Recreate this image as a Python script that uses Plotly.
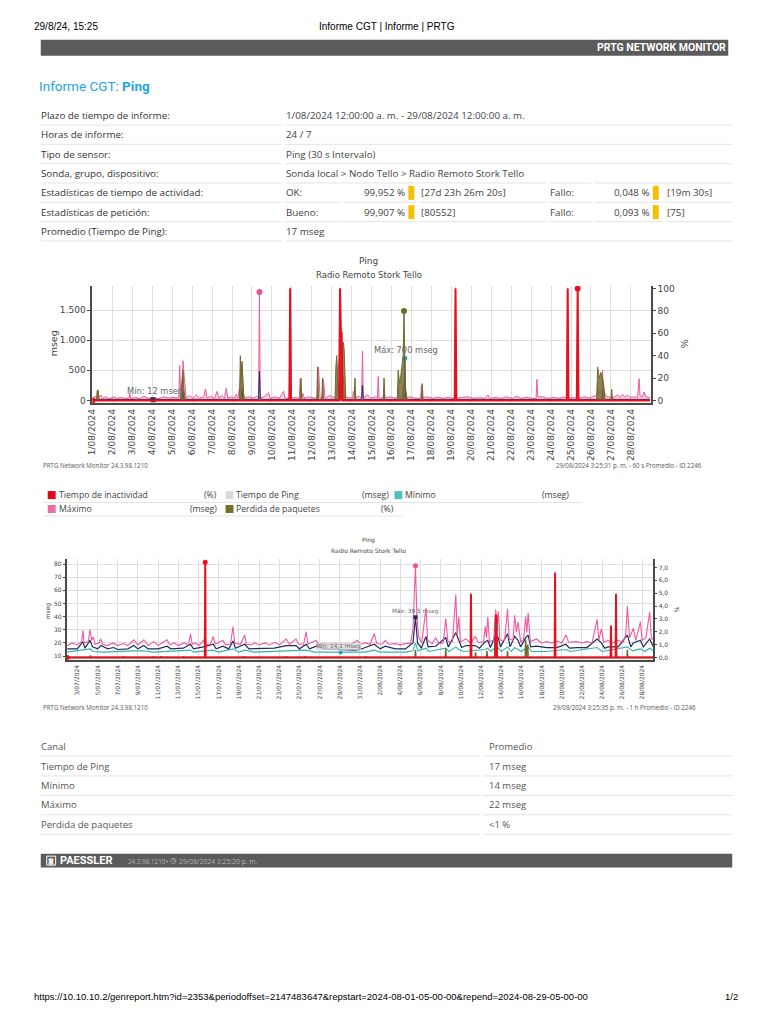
import plotly.graph_objects as go
import pandas as pd

W, H = 768, 1024
BODY = "Open Sans"
CH = "DejaVu Sans"
HDR = "Liberation Sans"
TTL = "Roboto"

# ---------------- data ----------------
page_date = "29/8/24, 15:25"
page_title = "Informe CGT | Informe | PRTG"
report_labels = ["Plazo de tiempo de informe:", "Horas de informe:", "Tipo de sensor:",
                 "Sonda, grupo, dispositivo:", "Estadísticas de tiempo de actividad:",
                 "Estadísticas de petición:", "Promedio (Tiempo de Ping):"]
report_values = ["1/08/2024 12:00:00 a. m. - 29/08/2024 12:00:00 a. m.", "24 / 7",
                 "Ping (30 s Intervalo)", "Sonda local &gt; Nodo Tello &gt; Radio Remoto Stork Tello",
                 None, None, "17 mseg"]
uptime_stats = ["OK:", "99,952 %", "[27d 23h 26m 20s]", "Fallo:", "0,048 %", "[19m 30s]"]
request_stats = ["Bueno:", "99,907 %", "[80552]", "Fallo:", "0,093 %", "[75]"]

legend_names = ["Tiempo de inactividad", "Tiempo de Ping", "Mínimo", "Máximo", "Perdida de paquetes"]
legend_units = ["(%)", "(mseg)", "(mseg)", "(mseg)", "(%)"]

channel_names = ["Tiempo de Ping", "Mínimo", "Máximo", "Perdida de paquetes"]
channel_avgs = ["17 mseg", "14 mseg", "22 mseg", "&lt;1 %"]

# chart 1: 60 s average, August (time "MM-DD HH", value)
c1_max = [("08-01 00", 40), ("08-01 04", 70), ("08-01 05", 30), ("08-01 06", 170), ("08-01 07", 40),
          ("08-01 10", 90), ("08-01 12", 35), ("08-01 16", 60), ("08-01 20", 30), ("08-02 03", 60),
          ("08-02 05", 30), ("08-02 10", 50), ("08-02 15", 35), ("08-02 20", 40), ("08-02 21", 120),
          ("08-02 22", 30), ("08-03 04", 50), ("08-03 09", 30), ("08-03 14", 70), ("08-03 19", 35),
          ("08-04 02", 45), ("08-04 08", 30), ("08-04 14", 60), ("08-04 20", 40), ("08-05 02", 50),
          ("08-05 08", 40), ("08-05 09", 580), ("08-05 10", 200), ("08-05 12", 50), ("08-05 13", 660),
          ("08-05 15", 300), ("08-05 17", 40), ("08-05 21", 80), ("08-06 01", 35), ("08-06 05", 90),
          ("08-06 09", 40), ("08-06 14", 60), ("08-06 16", 190), ("08-06 18", 40), ("08-06 22", 70),
          ("08-07 03", 35), ("08-07 06", 150), ("08-07 08", 40), ("08-07 12", 80), ("08-07 15", 40),
          ("08-07 17", 200), ("08-07 19", 40), ("08-07 23", 60), ("08-08 03", 40), ("08-08 05", 100),
          ("08-08 07", 40), ("08-08 10", 300), ("08-08 12", 600), ("08-08 14", 100), ("08-08 16", 40),
          ("08-08 20", 60), ("08-09 02", 40), ("08-09 06", 70), ("08-09 08", 40), ("08-09 09", 1800),
          ("08-09 10", 40), ("08-09 15", 60), ("08-09 20", 130), ("08-09 22", 35), ("08-10 04", 60),
          ("08-10 09", 35), ("08-10 14", 150), ("08-10 16", 35), ("08-10 21", 35), ("08-10 22", 1870),
          ("08-10 23", 35), ("08-11 04", 50), ("08-11 09", 35), ("08-11 10", 350), ("08-11 12", 35),
          ("08-11 13", 120), ("08-11 15", 35), ("08-11 20", 60), ("08-12 03", 40), ("08-12 07", 40),
          ("08-12 08", 550), ("08-12 10", 40), ("08-12 13", 40), ("08-12 14", 350), ("08-12 16", 40),
          ("08-12 22", 80), ("08-13 04", 40), ("08-13 06", 80), ("08-13 08", 550), ("08-13 09", 700),
          ("08-13 10", 1870), ("08-13 11", 1100), ("08-13 12", 300), ("08-13 14", 400), ("08-13 15", 60),
          ("08-13 20", 50), ("08-14 01", 40), ("08-14 02", 150), ("08-14 04", 40), ("08-14 08", 70),
          ("08-14 12", 40), ("08-14 13", 820), ("08-14 14", 40), ("08-14 19", 90), ("08-14 23", 40),
          ("08-15 05", 60), ("08-15 07", 40), ("08-15 08", 400), ("08-15 09", 40), ("08-15 14", 40),
          ("08-15 15", 200), ("08-15 16", 40), ("08-15 21", 60), ("08-16 04", 40), ("08-16 07", 40),
          ("08-16 08", 250), ("08-16 09", 60), ("08-16 13", 50), ("08-16 14", 300), ("08-16 15", 80),
          ("08-16 18", 40), ("08-16 22", 60), ("08-17 04", 35), ("08-17 11", 40), ("08-17 12", 250),
          ("08-17 13", 40), ("08-17 18", 60), ("08-18 02", 35), ("08-18 08", 55), ("08-18 14", 35),
          ("08-18 20", 50), ("08-19 02", 35), ("08-19 04", 35), ("08-19 05", 1870), ("08-19 06", 35),
          ("08-19 12", 50), ("08-19 20", 60), ("08-20 03", 35), ("08-20 10", 45), ("08-20 16", 35),
          ("08-20 20", 90), ("08-20 22", 35), ("08-21 06", 50), ("08-21 12", 35), ("08-21 18", 60),
          ("08-22 02", 35), ("08-22 06", 70), ("08-22 12", 35), ("08-22 18", 50), ("08-23 02", 35),
          ("08-23 06", 35), ("08-23 07", 350), ("08-23 08", 60), ("08-23 14", 60), ("08-23 20", 35),
          ("08-24 04", 50), ("08-24 10", 35), ("08-24 15", 60), ("08-24 19", 35), ("08-24 20", 1870),
          ("08-24 21", 35), ("08-25 03", 50), ("08-25 07", 35), ("08-25 08", 1870), ("08-25 09", 35),
          ("08-25 16", 60), ("08-25 22", 40), ("08-26 05", 80), ("08-26 07", 60), ("08-26 08", 300),
          ("08-26 09", 100), ("08-26 11", 150), ("08-26 13", 120), ("08-26 14", 500), ("08-26 15", 150),
          ("08-26 19", 60), ("08-27 03", 50), ("08-27 08", 90), ("08-27 11", 50), ("08-27 14", 100),
          ("08-27 17", 50), ("08-27 20", 90), ("08-27 23", 50), ("08-28 04", 60), ("08-28 08", 50),
          ("08-28 10", 360), ("08-28 11", 80), ("08-28 14", 60), ("08-28 16", 140), ("08-28 18", 60),
          ("08-28 23", 50)]
c1_ping = [("08-01 00", 17), ("08-05 12", 17), ("08-05 13", 150), ("08-05 14", 17), ("08-08 11", 17),
           ("08-08 12", 200), ("08-08 13", 17), ("08-09 08", 17), ("08-09 09", 480), ("08-09 10", 17),
           ("08-13 09", 17), ("08-13 10", 400), ("08-13 11", 17), ("08-14 12", 17), ("08-14 13", 250),
           ("08-14 14", 17), ("08-16 15", 17), ("08-16 16", 700), ("08-16 17", 17), ("08-26 13", 17),
           ("08-26 14", 150), ("08-26 15", 17), ("08-28 23", 17)]
c1_min = [("08-01 00", 14), ("08-09 08", 14), ("08-09 09", 60), ("08-09 10", 14), ("08-16 15", 14),
          ("08-16 16", 90), ("08-16 17", 14), ("08-28 23", 14)]
c1_loss = [("08-01 00", 0), ("08-01 05", 0), ("08-01 06", 9), ("08-01 07", 9), ("08-01 08", 0),
           ("08-05 10", 0), ("08-05 12", 20), ("08-05 13", 27), ("08-05 14", 10), ("08-05 16", 0),
           ("08-08 09", 0), ("08-08 10", 40), ("08-08 11", 20), ("08-08 12", 35), ("08-08 14", 5),
           ("08-08 15", 0), ("08-11 10", 0), ("08-11 11", 20), ("08-11 12", 0), ("08-12 06", 0),
           ("08-12 07", 30), ("08-12 08", 0), ("08-12 12", 0), ("08-12 13", 20), ("08-12 14", 0),
           ("08-13 04", 0), ("08-13 05", 30), ("08-13 06", 40), ("08-13 08", 10), ("08-13 14", 52),
           ("08-13 15", 45), ("08-13 16", 20), ("08-13 17", 0), ("08-14 03", 0), ("08-14 04", 20),
           ("08-14 05", 0), ("08-15 14", 0), ("08-15 15", 20), ("08-15 16", 0), ("08-16 07", 0),
           ("08-16 08", 27), ("08-16 09", 20), ("08-16 10", 15), ("08-16 14", 40), ("08-16 15", 80),
           ("08-16 16", 30), ("08-16 17", 10), ("08-16 19", 0), ("08-17 12", 0), ("08-17 13", 15),
           ("08-17 14", 0), ("08-26 07", 0), ("08-26 08", 30), ("08-26 10", 20), ("08-26 12", 25),
           ("08-26 14", 20), ("08-26 16", 10), ("08-26 17", 0), ("08-27 00", 0), ("08-27 01", 10),
           ("08-27 02", 0), ("08-28 23", 0)]
c1_down = [("08-01 00", 0), ("08-10 21", 0), ("08-10 22", 100), ("08-10 23", 0), ("08-13 09", 0),
           ("08-13 10", 100), ("08-13 11", 62), ("08-13 12", 60), ("08-13 13", 0), ("08-19 04", 0),
           ("08-19 05", 100), ("08-19 06", 0), ("08-24 19", 0), ("08-24 20", 100), ("08-24 21", 0),
           ("08-25 07", 0), ("08-25 08", 100), ("08-25 09", 0), ("08-28 23", 0)]

# chart 2: 1 h average, July-August
c2_max = [("07-02 00", 18), ("07-02 12", 20), ("07-03 00", 18.5), ("07-03 10", 21), ("07-03 13", 29.7),
          ("07-03 16", 20), ("07-04 02", 21), ("07-04 06", 30.2), ("07-04 10", 22), ("07-04 14", 24.7),
          ("07-04 18", 19), ("07-05 04", 20), ("07-05 07", 23), ("07-05 12", 19), ("07-06 00", 18),
          ("07-06 12", 20), ("07-07 00", 18), ("07-07 14", 19.5), ("07-08 00", 18), ("07-08 14", 22.4),
          ("07-09 00", 18.5), ("07-09 14", 22.4), ("07-10 00", 18), ("07-10 14", 21), ("07-11 00", 18),
          ("07-11 21", 22.4), ("07-12 04", 18.5), ("07-12 14", 20), ("07-13 00", 18), ("07-13 14", 20),
          ("07-14 00", 18.5), ("07-14 05", 27), ("07-14 09", 19), ("07-14 16", 20), ("07-15 02", 18),
          ("07-15 12", 22), ("07-15 18", 18.5), ("07-16 04", 19), ("07-16 11", 24.7), ("07-16 16", 19),
          ("07-17 10", 22), ("07-17 16", 18.5), ("07-18 04", 19), ("07-18 10", 32.5), ("07-18 14", 20),
          ("07-19 04", 19), ("07-19 14", 26), ("07-19 18", 19), ("07-20 04", 18.5), ("07-20 14", 20),
          ("07-21 00", 18.5), ("07-21 14", 20), ("07-22 00", 18.5), ("07-22 14", 20.5), ("07-23 00", 18.5),
          ("07-23 17", 23), ("07-24 00", 19), ("07-24 16", 23), ("07-24 22", 19), ("07-25 10", 19),
          ("07-25 16", 28.5), ("07-25 20", 19), ("07-26 16", 22), ("07-26 22", 18.5), ("07-27 14", 19.5),
          ("07-28 00", 18.5), ("07-28 14", 19.5), ("07-29 00", 18.5), ("07-29 14", 19), ("07-30 00", 18.5),
          ("07-30 18", 22), ("07-31 00", 19), ("07-31 14", 20), ("08-01 00", 19), ("08-01 10", 27),
          ("08-01 16", 19.5), ("08-02 04", 19), ("08-02 12", 22), ("08-02 20", 19), ("08-03 12", 19.5),
          ("08-04 00", 18.5), ("08-04 12", 19.5), ("08-05 00", 19.5), ("08-05 06", 30), ("08-05 09", 55),
          ("08-05 12", 78.7), ("08-05 15", 45), ("08-05 19", 25), ("08-06 03", 20), ("08-06 13", 46.7),
          ("08-06 17", 22), ("08-07 04", 19.5), ("08-07 12", 24), ("08-07 20", 19.5), ("08-08 06", 20),
          ("08-08 12", 38.6), ("08-08 17", 21), ("08-09 04", 21), ("08-09 12", 56.7), ("08-09 15", 26),
          ("08-09 19", 40), ("08-09 23", 21), ("08-10 12", 23), ("08-11 00", 20), ("08-11 10", 25),
          ("08-11 18", 20), ("08-12 06", 21), ("08-12 10", 32.7), ("08-12 13", 24), ("08-12 16", 39.7),
          ("08-12 20", 21), ("08-13 06", 22), ("08-13 11", 45.4), ("08-13 14", 30), ("08-13 17", 44),
          ("08-13 21", 22), ("08-14 08", 22), ("08-14 15", 45.9), ("08-14 19", 23), ("08-15 04", 22),
          ("08-15 08", 41), ("08-15 12", 28), ("08-15 16", 36), ("08-15 22", 21), ("08-16 05", 22),
          ("08-16 10", 40), ("08-16 13", 28), ("08-16 16", 43), ("08-16 21", 21), ("08-17 12", 23),
          ("08-18 00", 20), ("08-18 12", 21), ("08-19 00", 20), ("08-19 12", 21.5), ("08-20 00", 20),
          ("08-20 10", 26), ("08-20 16", 20.5), ("08-21 12", 21), ("08-22 00", 20), ("08-22 12", 21),
          ("08-23 00", 20), ("08-23 12", 38), ("08-23 16", 22), ("08-23 22", 30.7), ("08-24 04", 20.5),
          ("08-24 14", 22), ("08-25 00", 20), ("08-25 14", 22), ("08-26 02", 20.5), ("08-26 08", 26),
          ("08-26 12", 48), ("08-26 17", 24), ("08-27 02", 31), ("08-27 08", 22), ("08-27 19", 36),
          ("08-27 23", 22), ("08-28 08", 24), ("08-28 17", 43.3), ("08-28 21", 24), ("08-29 02", 22)]
c2_ping = [("07-02 00", 15.5), ("07-03 00", 15.5), ("07-03 13", 21), ("07-03 18", 16), ("07-04 06", 22),
           ("07-04 12", 17), ("07-05 00", 15.5), ("07-05 08", 18), ("07-06 00", 15.5), ("07-06 14", 16.5),
           ("07-07 00", 15), ("07-08 00", 15.5), ("07-08 14", 18), ("07-09 00", 15.5), ("07-09 14", 18),
           ("07-10 00", 15.5), ("07-11 00", 15.5), ("07-11 21", 17.5), ("07-12 06", 15.5), ("07-13 12", 16),
           ("07-14 05", 19), ("07-14 12", 15.5), ("07-15 12", 17), ("07-16 11", 19), ("07-16 18", 15.5),
           ("07-17 10", 17.5), ("07-18 00", 15.5), ("07-18 10", 21.5), ("07-18 16", 16), ("07-19 14", 19),
           ("07-20 00", 15.5), ("07-21 12", 16), ("07-22 12", 16), ("07-23 17", 18), ("07-24 16", 18),
           ("07-25 00", 15.5), ("07-25 16", 19), ("07-26 00", 15.5), ("07-26 16", 17.5), ("07-27 12", 15.5),
           ("07-28 12", 15), ("07-29 12", 14.5), ("07-30 12", 14.5), ("07-31 00", 15), ("08-01 10", 19),
           ("08-02 00", 15.5), ("08-02 12", 17.5), ("08-03 12", 15.5), ("08-04 12", 15.5), ("08-05 06", 20),
           ("08-05 12", 39.5), ("08-05 17", 20), ("08-06 02", 16), ("08-06 13", 25), ("08-06 18", 17),
           ("08-07 12", 17.5), ("08-08 12", 24), ("08-08 18", 17), ("08-09 12", 28), ("08-09 19", 22),
           ("08-10 02", 16.5), ("08-10 12", 18), ("08-11 10", 18), ("08-11 20", 16), ("08-12 10", 21),
           ("08-12 16", 22), ("08-12 22", 16.5), ("08-13 11", 26), ("08-13 17", 24), ("08-13 22", 17),
           ("08-14 15", 27), ("08-14 21", 17), ("08-15 08", 25), ("08-15 16", 22), ("08-15 22", 17),
           ("08-16 10", 24), ("08-16 16", 26), ("08-16 22", 17), ("08-17 12", 17.5), ("08-18 12", 16.5),
           ("08-19 12", 16.5), ("08-20 10", 19), ("08-20 18", 16), ("08-21 12", 16.5), ("08-22 12", 16.5),
           ("08-23 12", 23), ("08-23 22", 20), ("08-24 06", 16), ("08-24 14", 17), ("08-25 14", 17),
           ("08-26 12", 26), ("08-26 20", 17), ("08-27 02", 20), ("08-27 19", 22), ("08-28 02", 17),
           ("08-28 17", 23), ("08-29 02", 17)]
c2_min = [("07-02 00", 13), ("07-03 13", 15), ("07-04 06", 15.5), ("07-04 14", 13.5), ("07-05 12", 13),
          ("07-08 14", 14), ("07-09 14", 14), ("07-10 12", 13), ("07-14 05", 14.5), ("07-14 12", 13),
          ("07-16 11", 14.5), ("07-17 00", 13), ("07-18 10", 15.5), ("07-19 00", 13), ("07-19 14", 14.5),
          ("07-20 12", 13), ("07-23 17", 14), ("07-24 16", 14), ("07-25 16", 14.5), ("07-26 12", 13),
          ("07-28 12", 12.8), ("07-30 00", 12.6), ("07-31 12", 13), ("08-01 10", 14.5), ("08-02 00", 13),
          ("08-04 12", 13), ("08-05 06", 14), ("08-05 12", 20), ("08-05 18", 14), ("08-06 13", 16),
          ("08-06 20", 13.5), ("08-08 12", 16), ("08-08 20", 13.5), ("08-09 12", 17), ("08-09 19", 15),
          ("08-10 06", 13.5), ("08-11 10", 14.5), ("08-12 10", 15), ("08-12 16", 16), ("08-13 00", 13.5),
          ("08-13 11", 17), ("08-13 17", 16), ("08-14 00", 13.5), ("08-14 15", 17), ("08-15 00", 13.5),
          ("08-15 08", 16.5), ("08-15 16", 15), ("08-16 00", 13.5), ("08-16 10", 16), ("08-16 16", 17),
          ("08-17 00", 13.5), ("08-18 12", 13.5), ("08-20 10", 15), ("08-20 20", 13.5), ("08-23 12", 16.5),
          ("08-24 00", 13.5), ("08-26 12", 17), ("08-27 00", 14), ("08-27 19", 15.5), ("08-28 05", 13.5),
          ("08-28 17", 16), ("08-29 02", 14)]
c2_loss = [("07-02 00", 0), ("07-04 06", 0), ("07-04 07", 0.15), ("07-04 08", 0), ("07-07 12", 0),
           ("07-07 13", 0.1), ("07-07 14", 0), ("07-10 12", 0), ("07-10 13", 0.1), ("07-10 14", 0),
           ("07-11 06", 0), ("07-11 07", 0.1), ("07-11 08", 0), ("07-13 12", 0), ("07-13 13", 0.1),
           ("07-13 14", 0), ("07-19 12", 0), ("07-19 13", 0.1), ("07-19 14", 0), ("07-23 16", 0),
           ("07-23 17", 0.1), ("07-23 18", 0), ("07-25 12", 0), ("07-25 13", 0.1), ("07-25 14", 0),
           ("07-31 12", 0), ("07-31 13", 0.1), ("07-31 14", 0), ("08-05 11", 0), ("08-05 12", 0.6),
           ("08-05 13", 0), ("08-08 11", 0), ("08-08 12", 0.7), ("08-08 13", 0), ("08-11 10", 0),
           ("08-11 11", 0.4), ("08-11 12", 0), ("08-12 13", 0), ("08-12 14", 0.5), ("08-12 15", 0),
           ("08-13 08", 0), ("08-13 09", 1.5), ("08-13 10", 0.3), ("08-13 12", 2.38), ("08-13 14", 0.5),
           ("08-13 15", 0), ("08-14 14", 0), ("08-14 15", 0.5), ("08-14 16", 0), ("08-16 09", 0),
           ("08-16 10", 1.4), ("08-16 11", 0.3), ("08-16 15", 1.0), ("08-16 16", 0), ("08-26 11", 0),
           ("08-26 12", 0.6), ("08-26 13", 0), ("08-29 02", 0)]
c2_down = [("07-02 00", 0), ("07-15 15", 0), ("07-15 16", 7.4), ("07-15 17", 0), ("08-10 23", 0),
           ("08-11 00", 4.95), ("08-11 01", 0), ("08-13 10", 0), ("08-13 11", 3.33), ("08-13 12", 0),
           ("08-13 13", 3.3), ("08-13 14", 0), ("08-19 07", 0), ("08-19 08", 6.6), ("08-19 09", 0),
           ("08-24 20", 0), ("08-24 21", 2.48), ("08-24 22", 0), ("08-25 08", 0), ("08-25 09", 4.96),
           ("08-25 10", 0), ("08-29 02", 0)]

# chart markers (time, value)
c1_marks = {"down_min": ("08-01 00", 0), "ping_min": ("08-04 01", 12), "max_max": ("08-09 09", 1800),
            "loss_max": ("08-16 15", 80), "ping_max": ("08-16 16", 700), "down_max": ("08-25 08", 100)}
c2_marks = {"down_min": ("07-02 00", 0), "down_max": ("07-15 16", 7.4), "ping_min": ("07-29 02", 12.8),
            "max_max": ("08-05 12", 78.7), "ping_max": ("08-05 12", 39.5), "loss_max": ("08-13 12", 2.38)}

c1_x_ticks = [str(d.date()) for d in pd.date_range("2024-08-01", "2024-08-28", freq="D")]
c2_x_ticks = [str(d.date()) for d in pd.date_range("2024-07-03", "2024-08-28", freq="2D")]
c1_left_ticks = [0, 500, 1000, 1500]
c1_right_ticks = [0, 20, 40, 60, 80, 100]
c2_left_ticks = [10, 20, 30, 40, 50, 60, 70, 80]
c2_right_ticks = [0, 1, 2, 3, 4, 5, 6, 7]

# ---------------- helpers ----------------
def X(px):
    return px / W


def Y(py):
    return 1 - py / H


def T(t):
    return "2024-" + t + ":00"


def xs(series):
    return [T(t) for t, _ in series]


def ys(series):
    return [v for _, v in series]


annotations = []
shapes = []


def txt(x, y, s, size=10, color="#333", anchor="left", family=BODY, angle=0, bg=None):
    d = dict(x=X(x), y=Y(y), xref="paper", yref="paper", text=s, showarrow=False,
             xanchor=anchor, yanchor="middle", textangle=angle, borderpad=0, borderwidth=0,
             font=dict(size=size, color=color, family=family))
    if bg:
        d["bgcolor"] = bg
    annotations.append(d)


def hline(x0, x1, y, color="#e4e4e4", w=1):
    shapes.append(dict(type="line", xref="paper", yref="paper", x0=X(x0), x1=X(x1), y0=Y(y), y1=Y(y),
                       line=dict(color=color, width=w)))


def rect(x0, y0, x1, y1, fill, line=None):
    shapes.append(dict(type="rect", xref="paper", yref="paper", x0=X(x0), x1=X(x1), y0=Y(y1), y1=Y(y0),
                       fillcolor=fill, line=dict(width=0 if line is None else 1, color=line or fill)))


# ---------------- page chrome ----------------
txt(29, 25, page_date, 10, "#000", "left", HDR)
txt(384, 25, page_title, 10, "#000", "center", HDR)
rect(36, 38, 728, 54, "#5b5b5b")
txt(726, 46, "<b>PRTG NETWORK MONITOR</b>", 10.5, "#ffffff", "right", TTL)
txt(34, 84, "Informe CGT: <b>Ping</b>", 13.5, "#1ea4e0", "left", TTL)

# report table
row_y = [114 + i * 19.4 for i in range(len(report_labels))]
for i, lab in enumerate(report_labels):
    y = row_y[i]
    txt(36, y, lab, 9.8, "#333")
    hline(36, 278, y + 9.5)
    if report_values[i] is not None:
        txt(283, y, report_values[i], 9.8, "#444")
        if i == 3:
            hline(282, 546, y + 9.5); hline(549, 590, y + 9.5); hline(593, 732, y + 9.5)
        else:
            hline(282, 732, y + 9.5)
    else:
        st = uptime_stats if i == 4 else request_stats
        txt(283, y, st[0], 9.8, "#444")
        txt(403, y, st[1], 9.8, "#444", "right")
        rect(406, y - 7, 412, y + 7, "#f6c000")
        txt(419, y, st[2], 9.8, "#444")
        txt(549, y, st[3], 9.8, "#444")
        txt(649, y, st[4], 9.8, "#444", "right")
        rect(652, y - 7, 658, y + 7, "#f6c000")
        txt(666, y, st[5], 9.8, "#444")
        for a, b in [(282, 337), (340, 414), (417, 546), (549, 590), (593, 662), (665, 732)]:
            hline(a, b, y + 9.5)

# ---------------- chart 1 ----------------
txt(366, 260, "Ping", 9, "#444", "center", CH)
txt(366, 274, "Radio Remoto Stork Tello", 8.5, "#444", "center", CH)
txt(49, 343, "mseg", 9.5, "#444", "center", CH, -90)
txt(684, 343, "%", 9.5, "#444", "center", CH, -90)
txt(151, 390.5, "Mín: 12 mseg", 8.3, "#666", "center", CH)
txt(404, 349.5, "Máx: 700 mseg", 8.3, "#666", "center", CH)
txt(38, 465, "PRTG Network Monitor 24.3.98.1210", 6.2, "#555", "left", BODY)
txt(702, 465, "29/08/2024 3:25:31 p. m. - 60 s Promedio - ID 2246", 6.2, "#555", "right", BODY)

COL = dict(down="#e8101e", ping="#1d2b62", mn="#38b2ad", mx="#f0589f", loss="#6d6b2c")


def line_tr(series, xa, ya, color, width, fill=None):
    d = dict(x=xs(series), y=ys(series), xaxis=xa, yaxis=ya, mode="lines",
             line=dict(color=color, width=width), hoverinfo="skip", showlegend=False)
    if fill:
        d["fill"] = "tozeroy"
        d["fillcolor"] = fill
    return go.Scatter(**d)


def mark_tr(pt, xa, ya, color, size, symbol="circle"):
    return go.Scatter(x=[T(pt[0])], y=[pt[1]], xaxis=xa, yaxis=ya, mode="markers",
                      marker=dict(color=color, size=size, symbol=symbol), hoverinfo="skip",
                      showlegend=False)


fig = go.Figure()
fig.add_trace(line_tr(c1_max, "x", "y", COL["mx"], 1, "rgba(240,88,159,0.28)"))
fig.add_trace(line_tr(c1_min, "x", "y", COL["mn"], 1))
fig.add_trace(line_tr(c1_ping, "x", "y", COL["ping"], 1))
fig.add_trace(line_tr(c1_loss, "x", "y2", COL["loss"], 1, "rgba(109,107,44,0.8)"))
fig.add_trace(line_tr(c1_down, "x", "y2", COL["down"], 2, "rgba(232,16,30,0.85)"))
fig.add_trace(mark_tr(c1_marks["down_min"], "x", "y2", COL["down"], 6))
fig.add_trace(mark_tr(c1_marks["ping_min"], "x", "y", COL["ping"], 5, "square"))
fig.add_trace(mark_tr(c1_marks["max_max"], "x", "y", "#ee4f96", 6))
fig.add_trace(mark_tr(c1_marks["loss_max"], "x", "y2", COL["loss"], 6))
fig.add_trace(mark_tr(c1_marks["ping_max"], "x", "y", "#2f9fbd", 5))
fig.add_trace(mark_tr(c1_marks["down_max"], "x", "y2", COL["down"], 6))

# legend
legend_pos = [(43, 495, 213), (222, 495, 387), (392, 495, 568), (43, 509, 213), (222, 509, 392)]
legend_cols = ["#e30613", "#d9d9d9", "#4cc3bc", "#f06aa8", "#77712f"]
for (x0, y, xr), name, unit, c in zip(legend_pos, legend_names, legend_units, legend_cols):
    rect(x0, y - 4, x0 + 8, y + 4, c)
    txt(x0 + 11, y, name, 8.7, "#444")
    txt(xr, y, unit, 8.7, "#444", "right")
hline(39, 580, 502.5)
hline(39, 400, 516)

# ---------------- chart 2 ----------------
txt(366, 540.5, "Ping", 6, "#444", "center", CH)
txt(366, 551, "Radio Remoto Stork Tello", 6, "#444", "center", CH)
txt(43, 611, "mseg", 6, "#444", "center", CH, -90)
txt(676, 610, "%", 6, "#444", "center", CH, -90)
txt(336, 647, "Mín: 14,1 mseg", 5.8, "#666", "center", CH, 0, "rgba(215,215,215,0.75)")
txt(413, 612, "Máx: 39,5 mseg", 5.8, "#666", "center", CH)
txt(38, 708.5, "PRTG Network Monitor 24.3.98.1210", 6.2, "#555", "left", BODY)
txt(696, 708.5, "29/08/2024 3:25:35 p. m. - 1 h Promedio - ID 2246", 6.2, "#555", "right", BODY)

fig.add_trace(line_tr(c2_min, "x2", "y3", COL["mn"], 1.1))
fig.add_trace(line_tr(c2_ping, "x2", "y3", COL["ping"], 1.2))
fig.add_trace(line_tr(c2_max, "x2", "y3", COL["mx"], 1.1))
fig.add_trace(line_tr(c2_loss, "x2", "y4", COL["loss"], 1.5, "rgba(109,107,44,0.85)"))
fig.add_trace(line_tr(c2_down, "x2", "y4", COL["down"], 2))
fig.add_trace(mark_tr(c2_marks["down_min"], "x2", "y4", COL["down"], 5))
fig.add_trace(mark_tr(c2_marks["down_max"], "x2", "y4", COL["down"], 5))
fig.add_trace(mark_tr(c2_marks["ping_min"], "x2", "y3", "#2f9fb0", 4))
fig.add_trace(mark_tr(c2_marks["max_max"], "x2", "y3", "#ee4f96", 5))
fig.add_trace(mark_tr(c2_marks["ping_max"], "x2", "y3", COL["ping"], 4, "square"))
fig.add_trace(mark_tr(c2_marks["loss_max"], "x2", "y4", COL["loss"], 4))

# ---------------- bottom table ----------------
txt(36, 747, "Canal", 9.5, "#555")
txt(487, 747, "Promedio", 9.5, "#555")
hline(36, 478, 757); hline(481, 732, 757)
for i, (n, v) in enumerate(zip(channel_names, channel_avgs)):
    y = 767 + i * 19.5
    txt(36, y, n, 9.5, "#555")
    txt(487, y, v, 9.5, "#555")
    hline(36, 478, y + 10); hline(481, 732, y + 10)

# footer bar
rect(36, 855, 732, 869, "#5b5b5b")
rect(42, 857.5, 51, 866.5, "rgba(0,0,0,0)", "#ffffff")
txt(46.5, 862, "◙", 6, "#ffffff", "center", CH)
txt(55, 862, "<b>PAESSLER</b>", 11, "#ffffff", "left", TTL)
txt(124, 862.5, "24.3.98.1210+", 6.3, "#b5b5b5", "left", BODY)
txt(166, 862, "◷", 7.5, "#d0d0d0", "left", CH)
txt(175, 862.5, "29/08/2024 3:25:20 p. m.", 6.8, "#b5b5b5", "left", BODY)

txt(29, 998, "https://10.10.10.2/genreport.htm?id=2353&amp;periodoffset=2147483647&amp;repstart=2024-08-01-05-00-00&amp;repend=2024-08-29-05-00-00",
    9.5, "#000", "left", HDR)
txt(738, 998, "1/2", 9.5, "#000", "right", HDR)

# ---------------- axes ----------------
GRID = "#dedede"
AX = "#4a4a4a"
tick1 = dict(family=CH, size=9, color="#444")
tick2 = dict(family=CH, size=6, color="#444")

fig.update_layout(
    width=W, height=H, margin=dict(l=0, r=0, t=0, b=0, pad=0),
    paper_bgcolor="#ffffff", plot_bgcolor="#ffffff", separators=",.",
    showlegend=False, annotations=annotations, shapes=shapes,
    xaxis=dict(domain=[X(88), X(650)], anchor="y", type="date",
               range=["2024-08-01 00:00", "2024-08-29 00:00"], tickvals=c1_x_ticks,
               tickformat="%-d/%m/%Y", tickangle=-90, tickfont=tick1, showgrid=True, gridcolor=GRID,
               showline=True, linecolor=AX, linewidth=2, ticks="", zeroline=False),
    yaxis=dict(domain=[Y(403), Y(285)], anchor="x", range=[-50, 1902], tickvals=c1_left_ticks,
               tickformat=",", tickfont=tick1, showgrid=True, gridcolor=GRID, showline=True,
               linecolor=AX, linewidth=2, ticks="outside", ticklen=3, tickcolor=AX, zeroline=False),
    yaxis2=dict(overlaying="y", anchor="x", side="right", range=[-2.7, 102.4], tickvals=c1_right_ticks,
                tickfont=tick1, showgrid=False, showline=True, linecolor=AX, linewidth=2,
                ticks="outside", ticklen=3, tickcolor=AX, zeroline=False),
    xaxis2=dict(domain=[X(62.3), X(652.7)], anchor="y3", type="date",
                range=["2024-07-01 23:00", "2024-08-29 02:00"], tickvals=c2_x_ticks,
                tickformat="%-d/%m/%Y", tickangle=-90, tickfont=tick2, showgrid=True, gridcolor=GRID,
                showline=True, linecolor=AX, linewidth=2, ticks="", zeroline=False),
    yaxis3=dict(domain=[Y(661), Y(559)], anchor="x2", range=[6.7, 84], tickvals=c2_left_ticks,
                tickfont=tick2, showgrid=True, gridcolor=GRID, showline=True, linecolor=AX, linewidth=2,
                ticks="outside", ticklen=2, tickcolor=AX, zeroline=False),
    yaxis4=dict(overlaying="y3", anchor="x2", side="right", range=[-0.23, 7.67], tickvals=c2_right_ticks,
                tickformat=".1f", tickfont=tick2, showgrid=False, showline=True, linecolor=AX,
                linewidth=2, ticks="outside", ticklen=2, tickcolor=AX, zeroline=False),
)

fig.write_html("out.html", config={"displayModeBar": False},
               post_script="document.body.style.margin='0';document.body.style.overflow='hidden';")
